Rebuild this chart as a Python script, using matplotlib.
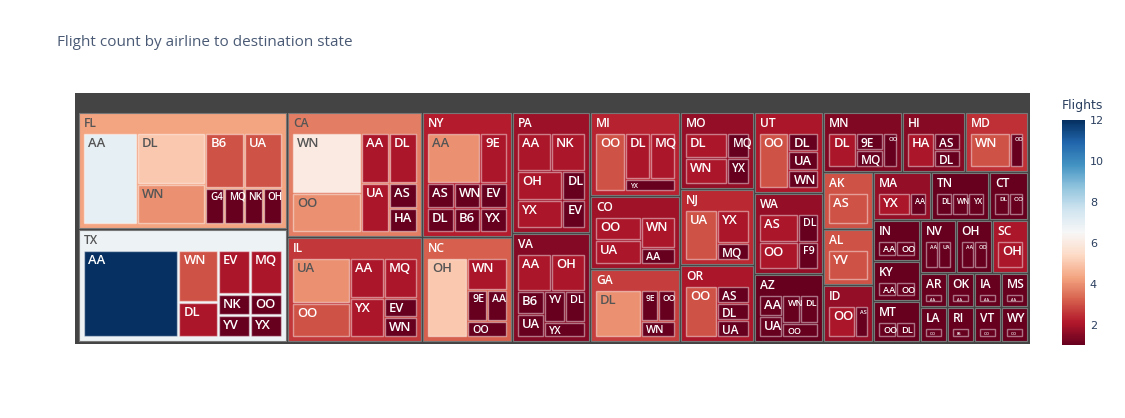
import matplotlib.pyplot as plt
import matplotlib.colors as mcolors
from matplotlib.patches import Rectangle
from matplotlib.cm import ScalarMappable

# flights per (state, airline)
states = ["FL", "TX", "CA", "IL", "NY", "NC", "PA", "VA", "MI", "CO", "GA",
          "MO", "NJ", "OR", "UT", "WA", "AZ", "MN", "HI", "MD", "AK", "AL",
          "ID", "MA", "TN", "CT", "IN", "KY", "MT", "NV", "OH", "SC",
          "AR", "LA", "OK", "RI", "IA", "MS", "VT", "WY"]
airlines = [
    ["AA", "DL", "WN", "B6", "UA", "G4", "MQ", "NK", "OH"],
    ["AA", "WN", "DL", "EV", "MQ", "NK", "YV", "OO", "YX"],
    ["WN", "OO", "AA", "DL", "UA", "AS", "HA"],
    ["UA", "OO", "AA", "MQ", "YX", "EV", "WN"],
    ["AA", "9E", "AS", "DL", "WN", "B6", "EV", "YX"],
    ["OH", "WN", "9E", "AA", "OO"],
    ["AA", "NK", "OH", "YX", "DL", "EV"],
    ["AA", "OH", "B6", "UA", "YV", "DL", "YX"],
    ["OO", "DL", "MQ", "YX"],
    ["OO", "UA", "WN", "AA"],
    ["DL", "9E", "OO", "WN"],
    ["DL", "WN", "MQ", "YX"],
    ["UA", "YX", "MQ"],
    ["OO", "AS", "DL", "UA"],
    ["OO", "DL", "UA", "WN"],
    ["AS", "OO", "DL", "F9"],
    ["AA", "UA", "WN", "DL", "OO"],
    ["DL", "9E", "MQ", "OO"],
    ["HA", "AS", "DL"],
    ["WN", "OO"],
    ["AS"], ["YV"], ["OO", "AS"], ["YX", "AA"], ["DL", "WN", "YX"],
    ["DL", "OO"], ["AA", "OO"], ["AA", "OO"], ["OO", "DL"], ["AA", "UA"],
    ["AA", "OO"], ["OH"],
    ["AA"], ["OO"], ["AA"], ["B6"], ["AA"], ["AA"], ["OO"], ["OO"],
]
flights = [
    [7, 5, 4, 3, 3, 1, 1, 1, 1],
    [12, 3, 2, 2, 2, 1, 1, 1, 1],
    [6, 4, 2, 2, 2, 1, 1],
    [4, 3, 2, 2, 2, 1, 1],
    [4, 2, 1, 1, 1, 1, 1, 1],
    [5, 2, 1, 1, 1],
    [2, 2, 2, 2, 1, 1],
    [2, 2, 1, 1, 1, 1, 1],
    [3, 2, 2, 1],
    [2, 2, 2, 1],
    [4, 1, 1, 1],
    [2, 2, 1, 1],
    [3, 2, 1],
    [3, 1, 1, 1],
    [3, 1, 1, 1],
    [2, 2, 1, 1],
    [1, 1, 1, 1, 1],
    [2, 1, 1, 1],
    [2, 1, 1],
    [3, 1],
    [3], [3], [2, 1], [2, 1], [1, 1, 1],
    [1, 1], [1, 1], [1, 1], [1, 1], [1, 1], [1, 1], [2],
    [1], [1], [1], [1], [1], [1], [1], [1],
]
cbar_ticks = [2, 4, 6, 8, 10, 12]


def worst(row, w):
    s = sum(row)
    return max(max(w * w * r / (s * s), s * s / (w * w * r)) for r in row)


def squarify(values, x, y, dx, dy):
    """Bruls squarified layout; values already sorted descending."""
    total = sum(values)
    areas = [v * dx * dy / total for v in values]
    rects = []
    while areas:
        w = min(dx, dy)
        row = [areas[0]]
        i = 1
        while i < len(areas) and worst(row + [areas[i]], w) <= worst(row, w):
            row.append(areas[i])
            i += 1
        areas = areas[i:]
        s = sum(row)
        if dx >= dy:  # column on the left
            cw = s / dy
            cy = y
            for a in row:
                rects.append((x, cy, cw, a / cw))
                cy += a / cw
            x += cw
            dx -= cw
        else:  # row on top
            rh = s / dx
            cx = x
            for a in row:
                rects.append((cx, y, a / rh, rh))
                cx += a / rh
            y += rh
            dy -= rh
    return rects


W, H = 1125, 418
fig = plt.figure(figsize=(W / 100, H / 100), dpi=100)
ax = fig.add_axes([0, 0, 1, 1])
ax.set_xlim(0, W)
ax.set_ylim(H, 0)
ax.axis("off")

cmap = plt.get_cmap("RdBu")
norm = mcolors.Normalize(vmin=1, vmax=12)


def text_color(c):
    r, g, b, _ = c
    return "#555555" if 0.299 * r + 0.587 * g + 0.114 * b > 0.6 else "white"


def label(w, h, s, max_px=13):
    px = min(max_px, (w - 6) / (0.66 * len(s)), h - 5)
    return px * 0.72 if px >= 3 else None


# root tile
ax.add_patch(Rectangle((75, 93), 955, 251, facecolor="#444444", edgecolor="none"))

totals = [sum(f) for f in flights]
state_rects = squarify(totals, 78, 112, 950, 230)
for st, names, vals, (sx, sy, sw, sh) in zip(states, airlines, flights, state_rects):
    avg = sum(v * v for v in vals) / sum(vals)
    col = cmap(norm(avg))
    ax.add_patch(Rectangle((sx + 1, sy + 1), sw - 2, sh - 2, facecolor=col,
                           edgecolor="#777777", linewidth=0.8))
    fs = label(sw, 20, st, 12)
    if fs:
        ax.text(sx + 6, sy + 5, st, fontsize=fs, color=text_color(col),
                va="top", ha="left", family="Open Sans", weight="semibold")
    kids = squarify(vals, sx + 5, sy + 21, sw - 10, sh - 26)
    for nm, v, (kx, ky, kw, kh) in zip(names, vals, kids):
        kc = cmap(norm(v))
        ax.add_patch(Rectangle((kx + 1, ky + 1), kw - 2, kh - 2, facecolor=kc,
                               edgecolor=(1, 1, 1, 0.45), linewidth=1.0))
        fs = label(kw, kh, nm)
        if fs:
            ax.text(kx + 5, ky + 4, nm, fontsize=fs, color=text_color(kc),
                    va="top", ha="left", family="Open Sans", weight="semibold")

fig.text(57 / W, 1 - 42 / H, "Flight count by airline to destination state",
         fontsize=11, color="#4a5a75", va="center", ha="left", family="Open Sans")

cax = fig.add_axes([1062 / W, 1 - 345 / H, 23 / W, 225 / H])
cb = fig.colorbar(ScalarMappable(norm=norm, cmap=cmap), cax=cax, ticks=cbar_ticks)
cb.outline.set_visible(False)
cb.ax.tick_params(length=0, labelsize=8, labelcolor="#2a3f5f")
cax.set_title("Flights", fontsize=9, color="#2a3f5f", loc="left", pad=8)

fig.savefig("out.png", dpi=100)
